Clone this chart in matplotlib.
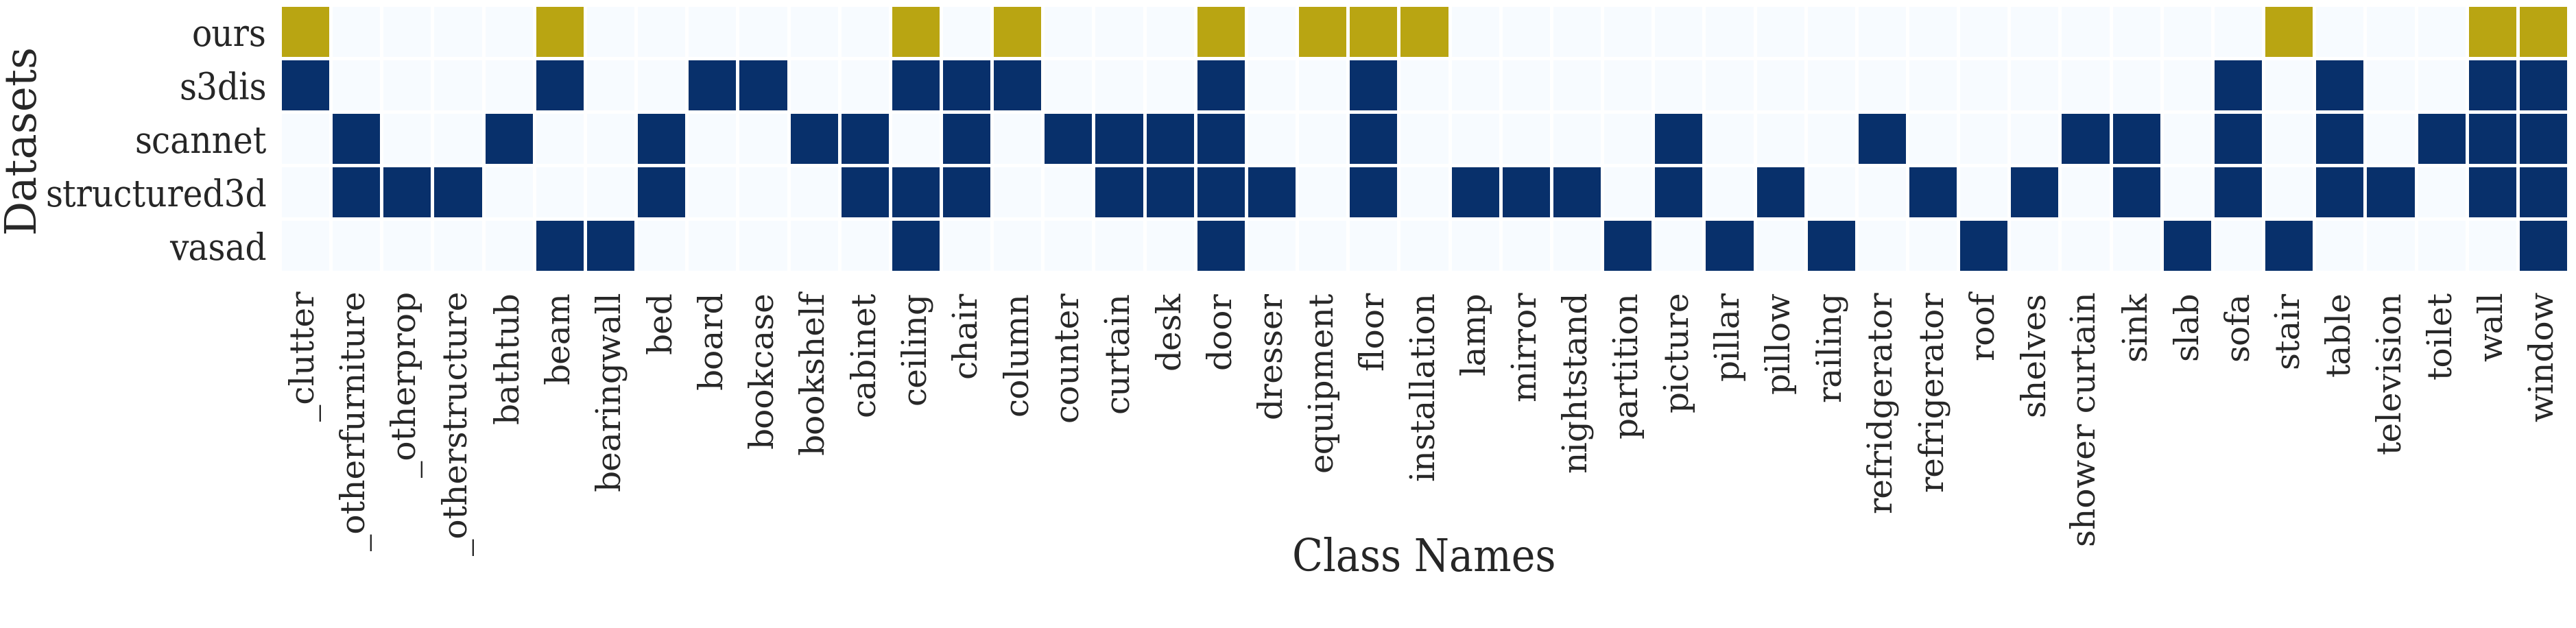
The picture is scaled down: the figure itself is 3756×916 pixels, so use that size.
import matplotlib
matplotlib.use("Agg")
import matplotlib.pyplot as plt
from matplotlib.colors import ListedColormap
import numpy as np

class_names = [
    "_clutter", "_otherfurniture", "_otherprop", "_otherstructure", "bathtub",
    "beam", "bearingwall", "bed", "board", "bookcase", "bookshelf", "cabinet",
    "ceiling", "chair", "column", "counter", "curtain", "desk", "door",
    "dresser", "equipment", "floor", "installation", "lamp", "mirror",
    "nightstand", "partition", "picture", "pillar", "pillow", "railing",
    "refridgerator", "refrigerator", "roof", "shelves", "shower curtain",
    "sink", "slab", "sofa", "stair", "table", "television", "toilet", "wall",
    "window",
]

datasets = ["ours", "s3dis", "scannet", "structured3d", "vasad"]

ours = ["_clutter", "beam", "ceiling", "column", "door", "equipment", "floor",
        "installation", "stair", "wall", "window"]
s3dis = ["_clutter", "beam", "board", "bookcase", "ceiling", "chair", "column",
         "door", "floor", "sofa", "table", "wall", "window"]
scannet = ["_otherfurniture", "bathtub", "bed", "bookshelf", "cabinet", "chair",
           "counter", "curtain", "desk", "door", "floor", "picture",
           "refridgerator", "shower curtain", "sink", "sofa", "table", "toilet",
           "wall", "window"]
structured3d = ["_otherfurniture", "_otherprop", "_otherstructure", "bed",
                "cabinet", "ceiling", "chair", "curtain", "desk", "door",
                "dresser", "floor", "lamp", "mirror", "nightstand", "picture",
                "pillow", "refrigerator", "shelves", "sink", "sofa", "table",
                "television", "wall", "window"]
vasad = ["beam", "bearingwall", "ceiling", "door", "partition", "pillar",
         "railing", "roof", "slab", "stair", "window"]

membership = [ours, s3dis, scannet, structured3d, vasad]

LIGHT = "#f7fbff"
NAVY = "#08306b"
GOLD = "#b9a512"
TEXT = "#262626"

# 0 = absent, 1 = present in a source dataset, 2 = present in ours
grid = np.zeros((len(datasets), len(class_names)))
for i, members in enumerate(membership):
    for c in members:
        grid[i, class_names.index(c)] = 2 if datasets[i] == "ours" else 1

plt.rcParams["font.family"] = "DejaVu Serif"

fig = plt.figure(figsize=(37.56, 9.16), dpi=100)
ax = fig.add_axes([408 / 3756, (916 - 397) / 916, (3745 - 408) / 3756, 390 / 916])

cmap = ListedColormap([LIGHT, NAVY, GOLD])
ax.pcolormesh(grid, cmap=cmap, vmin=-0.5, vmax=2.5, edgecolors="white", linewidth=3.6)
ax.set_xlim(0, len(class_names))
ax.set_ylim(len(datasets), 0)

ax.set_xticks(np.arange(len(class_names)) + 0.5)
ax.set_xticklabels(class_names, rotation=90, fontsize=35, color=TEXT)
ax.set_yticks(np.arange(len(datasets)) + 0.5)
ax.set_yticklabels(datasets, fontsize=39, color=TEXT, fontstretch="condensed")
ax.tick_params(axis="x", length=0, pad=20)
ax.tick_params(axis="y", length=0, pad=14)
for s in ax.spines.values():
    s.set_visible(False)

ax.set_xlabel("Class Names", fontsize=47, color=TEXT, fontstretch="condensed")
ax.xaxis.set_label_coords(0.5, -0.99)
ax.set_ylabel("Datasets", fontsize=45, color=TEXT)
ax.yaxis.set_label_coords(-0.1035, 0.5)

fig.savefig("out.png", dpi=100)
plt.close(fig)
